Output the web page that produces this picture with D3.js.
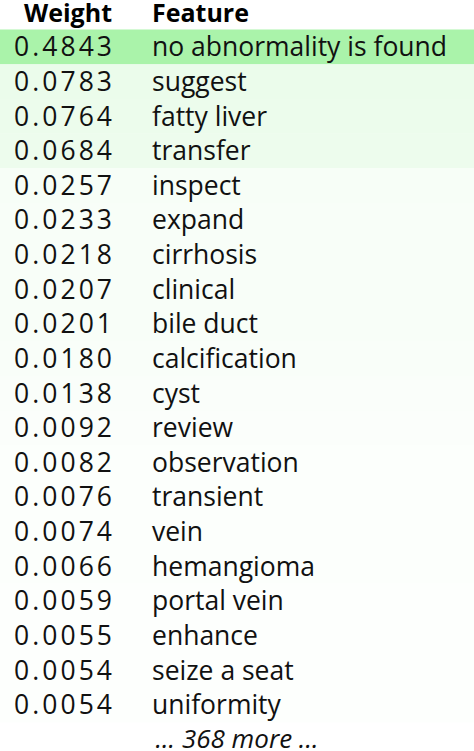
<!DOCTYPE html><html><head><meta charset="utf-8"><script src="https://cdn.jsdelivr.net/npm/d3@7"></script>
<style>body{margin:0;background:#fff}</style></head><body><script>
const features=["no abnormality is found","suggest","fatty liver","transfer","inspect","expand","cirrhosis","clinical","bile duct","calcification","cyst","review","observation","transient","vein","hemangioma","portal vein","enhance","seize a seat","uniformity"];
const weights=[0.4843,0.0783,0.0764,0.0684,0.0257,0.0233,0.0218,0.0207,0.0201,0.0180,0.0138,0.0092,0.0082,0.0076,0.0074,0.0066,0.0059,0.0055,0.0054,0.0054];
const headers=["Weight","Feature"];
const more="... 368 more ...";
const W=474,H=751,font="'Open Sans', sans-serif";
const svg=d3.select("body").append("svg").attr("width",W).attr("height",H);
const y=d3.scaleBand().domain(d3.range(features.length)).range([29.5,722]);
const light=d3.scaleLinear().domain([0,d3.max(weights)]).range([100,81]);
const col=w=>d3.hsl(120,0.75,light(Math.pow(w/d3.max(weights),0.8)*d3.max(weights))/100);
const rows=svg.selectAll("g.r").data(features).join("g").attr("transform",(d,i)=>`translate(0,${y(i)})`);
rows.append("rect").attr("width",W).attr("height",y.bandwidth()+0.5).attr("fill",(d,i)=>col(weights[i]));
rows.append("text").attr("x",112).attr("y",y.bandwidth()/2).attr("dy","0.36em").attr("text-anchor","end").attr("font-family",font).attr("font-size",26.5).attr("textLength",98).attr("fill","#111").text((d,i)=>weights[i].toFixed(4));
rows.append("text").attr("x",152).attr("y",y.bandwidth()/2).attr("dy","0.36em").attr("font-family",font).attr("font-size",26.5).attr("fill","#111").text(d=>d);
svg.append("text").attr("x",112).attr("y",22).attr("text-anchor","end").attr("font-family",font).attr("font-weight","bold").attr("font-size",25).text(headers[0]);
svg.append("text").attr("x",152).attr("y",22).attr("font-family",font).attr("font-weight","bold").attr("font-size",25).text(headers[1]);
svg.append("text").attr("x",237).attr("y",748).attr("text-anchor","middle").attr("font-family",font).attr("font-style","italic").attr("font-size",26).attr("fill","#111").text(more);
</script></body></html>
